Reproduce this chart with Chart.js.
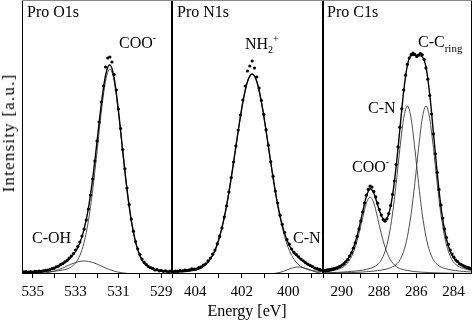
<!DOCTYPE html>
<html>
<head>
<meta charset="utf-8">
<script src="https://cdn.jsdelivr.net/npm/chart.js@4.4.0/dist/chart.umd.min.js"></script>
<style>
  body { margin: 0; background: #fff; }
  #wrap { position: relative; width: 474px; height: 321px; overflow: hidden; font-family: 'Liberation Serif', 'Times New Roman', serif; color: #000; }
  canvas { position: absolute; top: 0; }
  .t { position: absolute; font-size: 16px; line-height: 16px; white-space: nowrap; z-index: 5; }
  .sup { font-size: 10px; position: relative; top: -7px; }
  .sub { font-size: 10px; position: relative; top: 4px; }
</style>
</head>
<body>
<div id="wrap">
  <canvas id="c-o1s" width="180" height="321" style="left:0"></canvas>
  <canvas id="c-n1s" width="151" height="321" style="left:172px"></canvas>
  <canvas id="c-c1s" width="151" height="321" style="left:323px"></canvas>

  <div class="t" style="left:27px;top:3.6px">Pro O1s</div>
  <div class="t" style="left:177px;top:3.6px">Pro N1s</div>
  <div class="t" style="left:327px;top:3.6px">Pro C1s</div>

  <div class="t" style="left:119px;top:34.6px">COO<span class="sup">-</span></div>
  <div class="t" style="left:32px;top:229.6px">C-OH</div>
  <div class="t" style="left:245px;top:35.6px">NH<span class="sub">2</span><span class="sup">+</span></div>
  <div class="t" style="left:293px;top:229.6px">C-N</div>
  <div class="t" style="left:418px;top:33.6px">C-C<span class="sub" style="font-size:11px;top:5px">ring</span></div>
  <div class="t" style="left:368px;top:99.6px">C-N</div>
  <div class="t" style="left:352px;top:158.6px">COO<span class="sup">-</span></div>

  <div class="t" style="left:247px;top:302.6px;transform:translateX(-50%)">Energy [eV]</div>
  <div class="t" style="left:9px;top:132.5px;font-size:17px;letter-spacing:1.2px;transform:translate(-50%,-50%) rotate(-90deg)">Intensity [a.u.]</div>
</div>

<script>
/* XPS spectra of proline: O1s, N1s, C1s */

// --- O1s ---
const o1sTicks = [529, 530, 531, 532, 533, 534, 535];
const o1sLabels = [529, 531, 533, 535];
const o1sDataE = [528.5,528.6,528.7,528.8,528.9,529.0,529.1,529.2,529.3,529.4,529.5,529.6,529.7,529.8,529.9,530.0,530.1,530.2,530.3,530.4,530.5,530.6,530.7,530.8,530.9,531.0,531.1,531.2,531.3,531.4,531.5,531.6,531.7,531.8,531.9,532.0,532.1,532.2,532.3,532.4,532.5,532.6,532.7,532.8,532.9,533.0,533.1,533.2,533.3,533.4,533.5,533.6,533.7,533.8,533.9,534.0,534.1,534.2,534.3,534.4,534.5,534.6,534.7,534.8,534.9,535.0,535.1,535.2,535.3,535.4,535.5];
const o1sData = [2.5,2.8,2.2,3.1,2.7,3.6,3.2,4.3,4.0,5.6,6.3,7.4,9.5,11.6,14.9,19.4,25.2,32.5,42.8,54.9,69.5,86,105.2,124.5,145.5,165,184,199.5,212,217,216,207,188,172,152,133,113,95,79,65,54,45,38,32,27.5,24,20.5,18,15.8,13.5,12.2,10.3,9.4,7.9,7.2,5.8,5.4,4.6,3.9,3.6,3.2,2.6,2.9,2.3,2.6,2.0,2.4,1.9,2.5,2.1,2.6];
const o1sFitE = [528.4,528.6,528.8,529.0,529.2,529.4,529.6,529.8,530.0,530.2,530.4,530.6,530.8,531.0,531.2,531.4,531.6,531.8,532.0,532.2,532.4,532.6,532.8,533.0,533.2,533.4,533.6,533.8,534.0,534.2,534.4,534.6,534.8,535.0,535.2,535.4,535.6];
const o1sEnvelope = [2.1,2.4,2.8,3.3,3.9,5.0,7.1,11.0,18.6,32.0,53.6,84.7,123.3,163.5,195.8,209.3,198.9,169.7,132.1,95.6,65.9,44.8,31.1,22.5,17.0,13.0,9.9,7.6,5.7,4.2,3.2,2.5,2.0,1.7,1.3,1.2,1.1];
const o1sCoo = [2.1,2.4,2.8,3.3,3.9,5.0,7.1,11.0,18.5,31.8,53.3,84.1,122.2,161.7,192.9,205,192.9,161.7,122.2,84.1,53.3,31.8,18.5,11.0,7.1,5.0,3.9,3.3,2.8,2.4,2.1,1.9,1.7,1.5,1.3,1.2,1.1];
const o1sCoh = [0,0,0,0,0,0,0,0,0.1,0.2,0.3,0.6,1.1,1.8,2.9,4.3,6.0,8.0,9.9,11.5,12.6,13,12.6,11.5,9.9,8.0,6.0,4.3,2.9,1.8,1.1,0.6,0.3,0.2,0,0,0];

// --- N1s ---
const n1sTicks = [399, 400, 401, 402, 403, 404, 405];
const n1sLabels = [400, 402, 404];
const n1sDataE = [398.45,398.55,398.65,398.75,398.85,398.95,399.05,399.15,399.25,399.35,399.45,399.55,399.65,399.75,399.85,399.95,400.05,400.15,400.25,400.35,400.45,400.55,400.65,400.75,400.85,400.95,401.05,401.15,401.25,401.35,401.45,401.55,401.65,401.75,401.85,401.95,402.05,402.15,402.25,402.35,402.45,402.55,402.65,402.75,402.85,402.95,403.05,403.15,403.25,403.35,403.45,403.55,403.65,403.75,403.85,403.95,404.05,404.15,404.25,404.35,404.45,404.55,404.65,404.75,404.85,404.95,405.05];
const n1sData = [3.8,4.0,4.6,5.5,6.0,7.4,8.6,9.8,11.3,13.2,15.0,17.1,19.4,21.6,25.0,29.8,34.5,41.5,49.7,58.8,71.0,82.9,97.8,112.5,128.8,144.3,159.6,173.5,186,197,206,213,208,203,188,174,159,144,128,112,96.5,82,68.2,56.9,46.0,37.6,30.4,23.9,19.8,15.9,13.1,10.2,8.9,7.1,6.3,5.0,4.8,5.2,4.1,3.6,3.9,3.1,3.4,2.8,3.0,2.5,2.7];
const n1sFitE = [398.35,398.55,398.75,398.95,399.15,399.35,399.55,399.75,399.95,400.15,400.35,400.55,400.75,400.95,401.15,401.35,401.55,401.75,401.95,402.15,402.35,402.55,402.75,402.95,403.15,403.35,403.55,403.75,403.95,404.15,404.35,404.55,404.75,404.95,405.15];
const n1sEnvelope = [2.4,3.1,4.4,6.5,9.3,12.6,16.4,21.2,28.5,40.4,58.2,82.4,111.9,143.2,171.9,192.5,200,192.5,171.9,143.1,111.6,81.7,56.6,37.3,23.6,14.8,9.4,6.2,4.4,3.4,2.8,2.4,2.1,1.9,1.7];
const n1sNh = [2.1,2.4,2.8,3.4,4.4,6.2,9.4,14.8,23.6,37.3,56.6,81.7,111.6,143.1,171.9,192.5,200,192.5,171.9,143.1,111.6,81.7,56.6,37.3,23.6,14.8,9.4,6.2,4.4,3.4,2.8,2.4,2.1,1.9,1.7];
const n1sCn = [0.3,0.7,1.6,3.1,4.9,6.4,7.0,6.4,4.9,3.1,1.6,0.7,0.3,0.1,0,0,0,0,0,0,0,0,0,0,0,0,0,0,0,0,0,0,0,0,0];

// --- C1s ---
const c1sTicks = [284, 285, 286, 287, 288, 289, 290, 291];
const c1sLabels = [284, 286, 288, 290];
const c1sDataE = [283.07,283.17,283.27,283.37,283.47,283.57,283.67,283.77,283.87,283.97,284.07,284.17,284.27,284.37,284.47,284.57,284.67,284.77,284.87,284.97,285.07,285.17,285.27,285.37,285.47,285.57,285.67,285.77,285.87,285.97,286.07,286.17,286.27,286.37,286.47,286.57,286.67,286.77,286.87,286.97,287.07,287.17,287.27,287.37,287.47,287.57,287.67,287.77,287.87,287.97,288.07,288.17,288.27,288.37,288.47,288.57,288.67,288.77,288.87,288.97,289.07,289.17,289.27,289.37,289.47,289.57,289.67,289.77,289.87,289.97,290.07,290.17,290.27,290.37,290.47,290.57,290.67,290.77,290.87,290.97];
const c1sData = [5.2,5.9,6.3,7.4,8.1,9.3,10.2,12.3,13.9,16.8,19.9,24.0,29.6,36.4,45.1,55.9,68.8,84.5,101.6,120.2,140.1,160.0,178.4,194.8,206.1,214.6,219.2,220.4,218.9,217.5,219.6,220.8,219.3,215.9,209.6,198.8,184.0,165.2,146.8,127.1,109.4,93.0,79.6,68.4,60.3,55.0,52.8,54.2,58.9,64.5,70.8,77.1,82.6,86.9,87.8,84.6,78.8,71.0,62.0,53.1,45.0,37.6,31.1,25.8,21.2,17.9,14.6,12.4,10.3,9.0,7.7,6.8,5.9,5.3,4.6,4.2,3.7,3.5,3.1,2.9];
const c1sFitE = [282.87,283.07,283.27,283.47,283.67,283.87,284.07,284.27,284.47,284.67,284.87,285.07,285.27,285.47,285.67,285.87,286.07,286.27,286.47,286.67,286.87,287.07,287.27,287.47,287.67,287.87,288.07,288.27,288.47,288.67,288.87,289.07,289.27,289.47,289.67,289.87,290.07,290.27,290.47,290.67,290.87,291.07];
const c1sEnvelope = [5.7,6.4,7.5,8.8,10.6,13.6,18.8,28.0,43.7,68.0,101.3,141.0,179.6,206.8,217.3,218.4,218.7,218.4,208.7,182.5,145.2,107.8,78.2,60.1,54.2,58.4,69.2,80.8,85.2,77.7,62.2,45.6,31.5,21.4,14.8,10.8,8.4,6.9,5.9,5.1,4.4,4.0];
const c1sCc = [3.4,3.9,4.6,5.6,7.1,9.5,14.1,22.6,37.2,59.9,90.7,125.6,155.6,168,155.6,125.6,90.7,59.9,37.2,22.6,14.1,9.5,7.1,5.6,4.6,3.9,3.4,2.9,2.6,2.3,2.0,1.8,1.6,1.5,1.3,1.2,1.1,1.0,0.9,0.9,0.8,0.8];
const c1sCn = [1.8,2.0,2.3,2.6,2.9,3.4,3.9,4.6,5.6,7.1,9.5,14.1,22.6,37.2,59.9,90.7,125.6,155.6,168,155.6,125.6,90.7,59.9,37.2,22.6,14.1,9.5,7.1,5.6,4.6,3.9,3.4,2.9,2.6,2.3,2.0,1.8,1.6,1.5,1.3,1.2,1.1];
const c1sCoo = [0.5,0.5,0.55,0.6,0.6,0.7,0.8,0.8,0.9,1.0,1.1,1.3,1.4,1.6,1.8,2.1,2.4,2.9,3.5,4.3,5.5,7.6,11.2,17.3,27.0,40.4,56.3,70.8,77,70.8,56.3,40.4,27.0,17.3,11.2,7.6,5.5,4.3,3.5,2.9,2.4,2.1];

Chart.defaults.font.family = "'Liberation Serif', 'Times New Roman', serif";
Chart.defaults.color = '#000';

// panel frame; the top edge is lighter like in the scanned figure
const framePlugin = {
  id: 'frame',
  afterDraw(chart) {
    const { ctx, chartArea: a } = chart;
    ctx.save();
    ctx.lineWidth = 1;
    ctx.strokeStyle = '#000';
    ctx.beginPath();
    ctx.moveTo(a.left + 0.5, a.top);
    ctx.lineTo(a.left + 0.5, a.bottom - 0.5);
    ctx.lineTo(a.right - 0.5, a.bottom - 0.5);
    ctx.lineTo(a.right - 0.5, a.top);
    ctx.stroke();
    ctx.strokeStyle = '#888';
    ctx.beginPath();
    ctx.moveTo(a.left, a.top + 0.5);
    ctx.lineTo(a.right, a.top + 0.5);
    ctx.stroke();
    ctx.restore();
  }
};

const pts = (xs, ys) => xs.map((x, i) => ({ x: x, y: ys[i] }));

function curve(xs, ys, color, width) {
  return { data: pts(xs, ys), borderColor: color, borderWidth: width, pointRadius: 0, fill: false, cubicInterpolationMode: 'monotone' };
}

function makePanel(id, cfg) {
  const datasets = [
    { data: pts(cfg.dataE, cfg.data), showLine: false, pointRadius: 1.6, pointBorderWidth: 0, pointBackgroundColor: '#000' },
    curve(cfg.fitE, cfg.envelope, '#000', 1.4)
  ].concat(cfg.components.map(c => curve(cfg.fitE, c, '#3a3a3a', 0.9)));

  new Chart(document.getElementById(id), {
    type: 'line',
    data: { datasets },
    options: {
      responsive: false,
      animation: false,
      devicePixelRatio: 1,
      events: [],
      layout: { autoPadding: false, padding: { left: cfg.padLeft, right: cfg.padRight, top: 0, bottom: 0 } },
      plugins: { legend: { display: false }, tooltip: { enabled: false } },
      scales: {
        x: {
          type: 'linear',
          reverse: true,
          min: cfg.min,
          max: cfg.max,
          afterFit: s => { s.height = 47; },
          afterBuildTicks: s => { s.ticks = cfg.ticks.map(v => ({ value: v })); },
          ticks: {
            autoSkip: false,
            maxRotation: 0,
            padding: 5,
            color: '#000',
            font: { size: 15 },
            callback: v => cfg.labels.includes(v) ? String(v) : ''
          },
          grid: { drawOnChartArea: false, drawTicks: true, tickLength: 4, color: '#000', tickColor: '#000' },
          border: { display: false }
        },
        y: { display: false, min: 0, max: 274 }
      }
    },
    plugins: [framePlugin]
  });
}

makePanel('c-o1s', { min: 528.5, max: 535.5, padLeft: 22, padRight: 8, ticks: o1sTicks, labels: o1sLabels,
  dataE: o1sDataE, data: o1sData, fitE: o1sFitE, envelope: o1sEnvelope, components: [o1sCoo, o1sCoh] });

makePanel('c-n1s', { min: 398.5, max: 405.0, padLeft: 0, padRight: 0, ticks: n1sTicks, labels: n1sLabels,
  dataE: n1sDataE, data: n1sData, fitE: n1sFitE, envelope: n1sEnvelope, components: [n1sNh, n1sCn] });

makePanel('c-c1s', { min: 283.0, max: 291.0, padLeft: 0, padRight: 2, ticks: c1sTicks, labels: c1sLabels,
  dataE: c1sDataE, data: c1sData, fitE: c1sFitE, envelope: c1sEnvelope, components: [c1sCc, c1sCn, c1sCoo] });
</script>
</body>
</html>
